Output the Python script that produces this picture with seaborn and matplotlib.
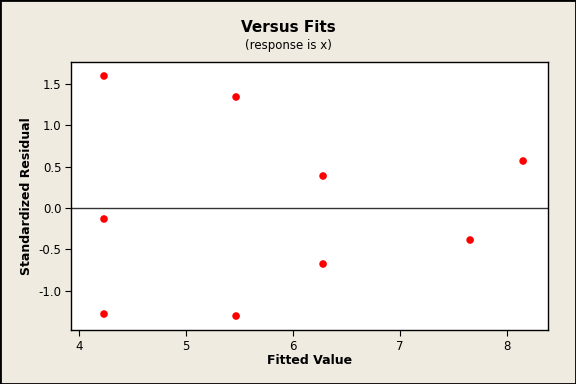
import matplotlib
matplotlib.use("Agg")
import matplotlib.pyplot as plt
import seaborn as sns
import pandas as pd
from matplotlib.patches import Rectangle

fitted = [4.231, 4.231, 4.231, 5.467, 5.467, 6.281, 6.281, 7.657, 8.153]
resid = [1.596, -0.133, -1.282, 1.342, -1.306, 0.387, -0.677, -0.387, 0.568]
xticks = [4, 5, 6, 7, 8]
yticks = [-1.0, -0.5, 0.0, 0.5, 1.0, 1.5]

df = pd.DataFrame({"Fitted Value": fitted, "Standardized Residual": resid})

sns.set_style("white")
plt.rcParams["font.family"] = ["DejaVu Sans"]
plt.rcParams["text.color"] = "black"
plt.rcParams["axes.labelcolor"] = "black"
plt.rcParams["xtick.color"] = "black"
plt.rcParams["ytick.color"] = "black"

bg = "#EFEBE1"
fig = plt.figure(figsize=(5.76, 3.84), dpi=100, facecolor=bg)
ax = fig.add_axes([71/576, 1-330/384, (548-71)/576, (330-62)/384])
ax.set_facecolor("white")

ax.axhline(0, color="#333333", lw=1.0, zorder=1)
sns.scatterplot(data=df, x="Fitted Value", y="Standardized Residual", ax=ax,
                color="#FF0000", s=30, edgecolor="none", zorder=3)

ax.set_xlim(3.922, 8.386)
ax.set_ylim(-1.475, 1.765)
ax.set_xticks(xticks)
ax.set_xticklabels([str(v) for v in xticks])
ax.set_yticks(yticks)
ax.set_yticklabels([f"{v:.1f}" for v in yticks])
ax.tick_params(axis="both", direction="out", length=4, width=0.8, color="black",
               labelcolor="black", labelsize=8.5, pad=3, bottom=True, left=True)
for s in ax.spines.values():
    s.set_color("black")
    s.set_linewidth(1.0)

ax.set_xlabel("Fitted Value", fontsize=9, fontweight="bold", labelpad=1, color="black")
ax.set_ylabel("Standardized Residual", fontsize=9, fontweight="bold", labelpad=4, color="black")

fig.text(0.5, 1-27/384, "Versus Fits", ha="center", va="center", fontsize=11,
         fontweight="bold", color="black")
fig.text(0.5, 1-45/384, "(response is x)", ha="center", va="center", fontsize=8.5, color="black")

fig.patches.append(Rectangle((0, 0), 1, 1, transform=fig.transFigure, fill=False,
                             edgecolor="black", lw=2, zorder=10))

fig.savefig("out.png", dpi=100, facecolor=bg)
